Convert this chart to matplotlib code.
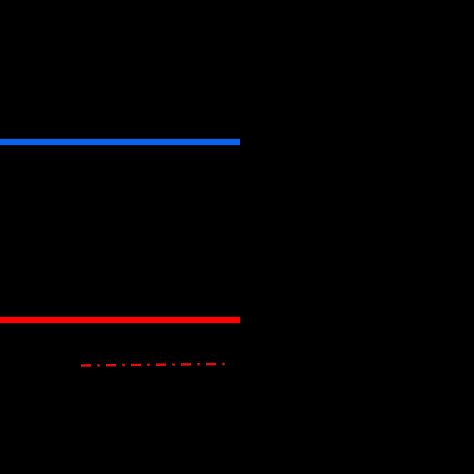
import matplotlib
matplotlib.use("Agg")
import matplotlib.pyplot as plt

# line data (x range, y level) in picture units, origin top-left
blue_x = [0, 240]
blue_y = [142, 142]
red_x = [0, 240]
red_y = [320, 320]
dash_x = [81, 225]
dash_y = [365.5, 364]

fig = plt.figure(figsize=(4.74, 4.74), dpi=100, facecolor="black")
ax = fig.add_axes([0, 0, 1, 1])
ax.set_facecolor("black")
ax.set_xlim(0, 474)
ax.set_ylim(474, 0)
ax.axis("off")

ax.plot(blue_x, blue_y, color="#0a64f0", lw=4.5, solid_capstyle="butt")
ax.plot(red_x, red_y, color="#ff0000", lw=4.5, solid_capstyle="butt")
ax.plot(dash_x, dash_y, color="#e01010", lw=1.8, linestyle=(0, (4, 2.5, 1, 2.5)))

fig.savefig("out.png", dpi=100, facecolor="black")
